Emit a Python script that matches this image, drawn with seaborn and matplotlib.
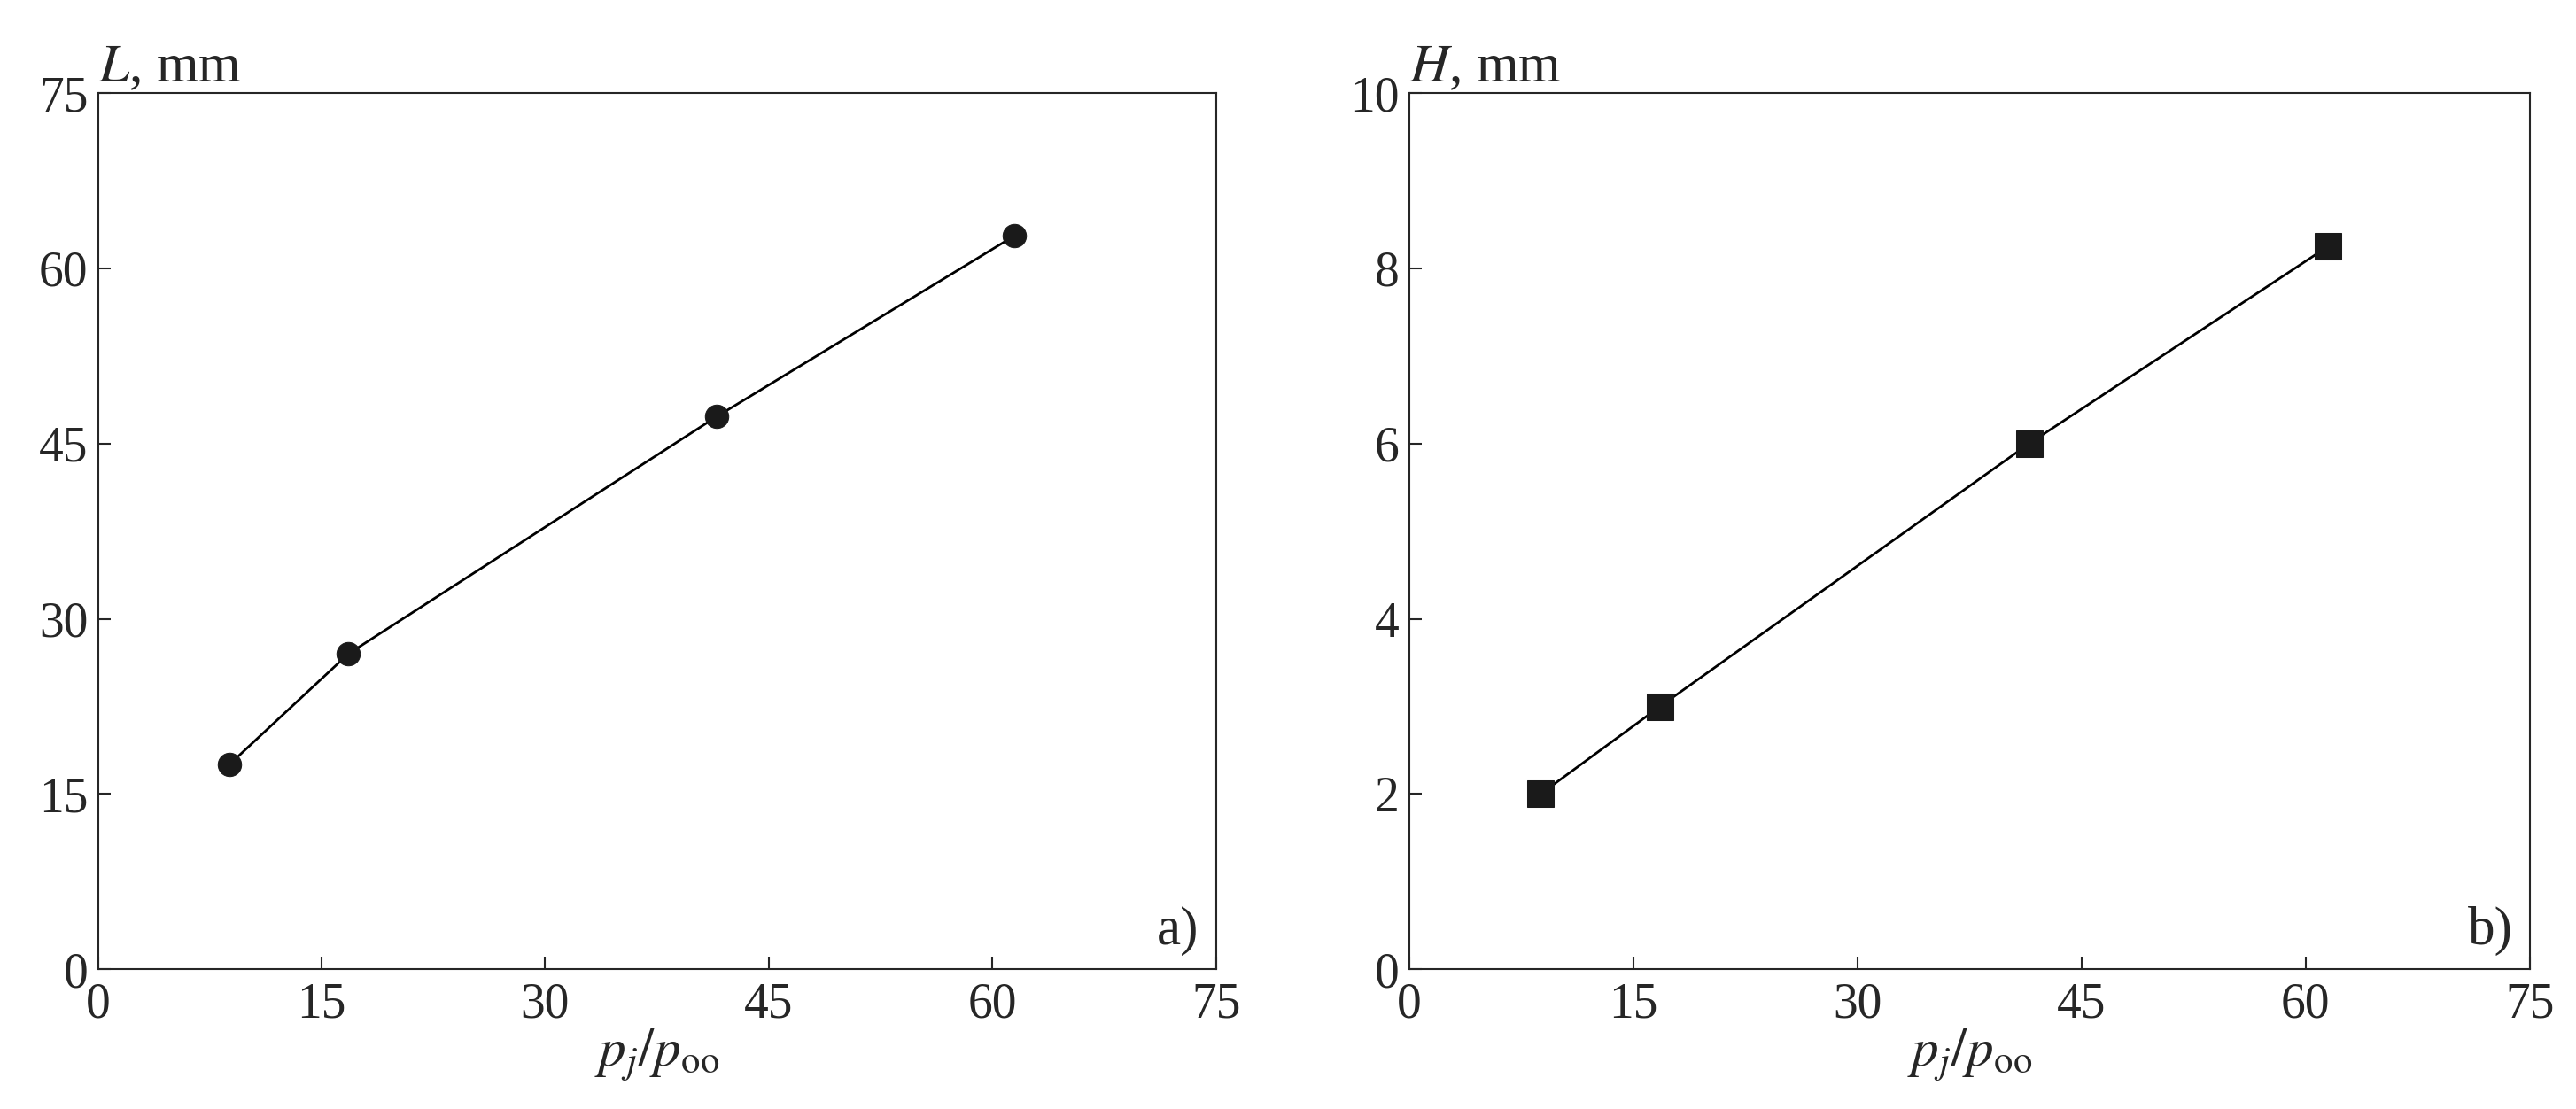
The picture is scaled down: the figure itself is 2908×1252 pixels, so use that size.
import matplotlib
matplotlib.use("Agg")
import matplotlib.pyplot as plt
import seaborn as sns
import pandas as pd

# Values
ratio = [8.8, 16.8, 41.5, 61.5]
length_mm = [17.5, 27.0, 47.3, 62.8]
height_mm = [2.0, 3.0, 6.0, 8.25]
x_ticks = [0, 15, 30, 45, 60, 75]
l_ticks = [0, 15, 30, 45, 60, 75]
h_ticks = [0, 2, 4, 6, 8, 10]

sns.set_style("ticks")
plt.rcParams["font.family"] = ["Liberation Serif", "DejaVu Serif"]
plt.rcParams["mathtext.fontset"] = "stix"

df = pd.DataFrame({"ratio": ratio, "L": length_mm, "H": height_mm})

fig = plt.figure(figsize=(29.08, 12.52), dpi=100)
ax1 = fig.add_axes([0.038, 0.126, 0.434, 0.79])
ax2 = fig.add_axes([0.547, 0.126, 0.435, 0.79])

panels = [
    (ax1, "L", "o", l_ticks, r"$L$, mm", "a)"),
    (ax2, "H", "s", h_ticks, r"$H$, mm", "b)"),
]
for ax, col, mk, yt, ylab, tag in panels:
    sns.lineplot(data=df, x="ratio", y=col, ax=ax, color="black", lw=2,
                 marker=mk, markersize=21 if mk == "s" else 19,
                 markerfacecolor="#1a1a1a", markeredgecolor="#1a1a1a")
    ax.set_xlim(0, 75)
    ax.set_ylim(yt[0], yt[-1])
    ax.set_xticks(x_ticks)
    ax.set_yticks(yt)
    ax.tick_params(direction="in", labelsize=40, length=10, width=1.5)
    ax.tick_params(axis="x", pad=10)
    ax.tick_params(axis="y", pad=8)
    for s in ax.spines.values():
        s.set_linewidth(1.5)
    ax.set_xlabel(r"$p_j/p_{\mathrm{oo}}$", fontsize=44, labelpad=0)
    ax.set_ylabel("")
    ax.text(0.0, 1.0, ylab, transform=ax.transAxes, fontsize=44,
            ha="left", va="bottom")
    ax.text(0.985, 0.015, tag, transform=ax.transAxes, fontsize=44,
            ha="right", va="bottom")

fig.savefig("out.png", dpi=100)
